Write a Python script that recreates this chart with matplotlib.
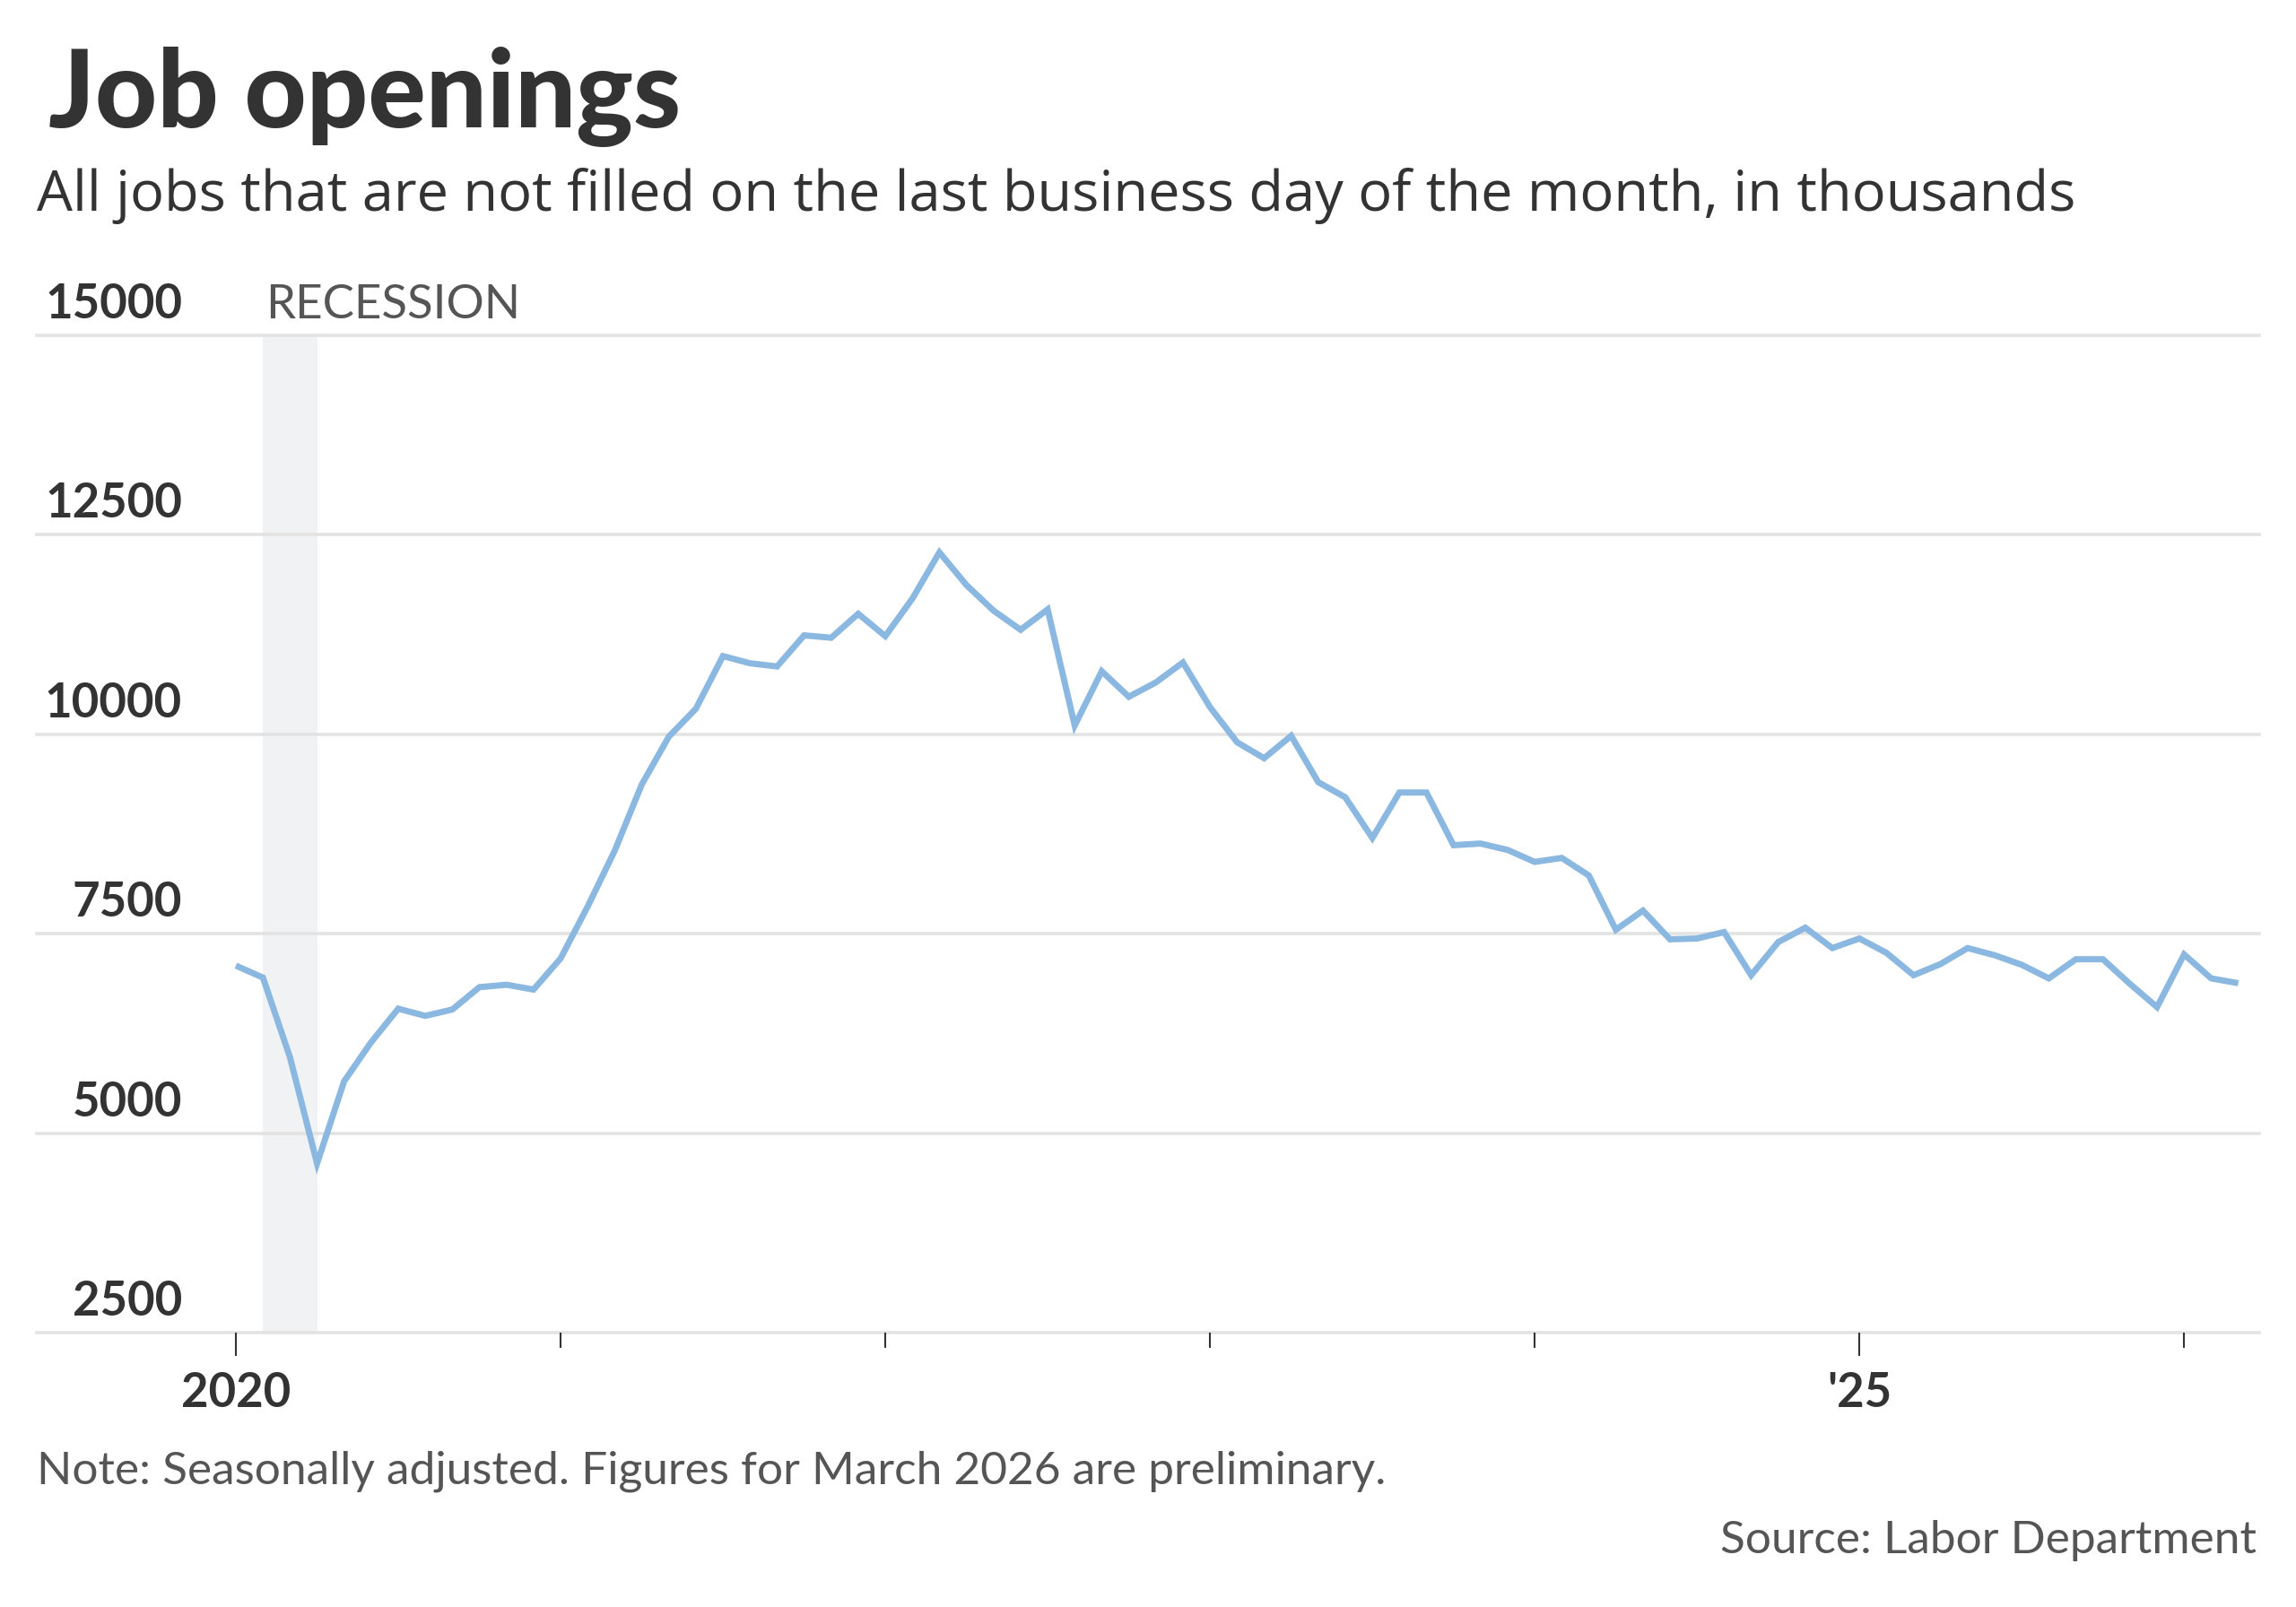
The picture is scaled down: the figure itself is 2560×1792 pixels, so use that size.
import matplotlib
matplotlib.use("Agg")
import matplotlib.pyplot as plt
import matplotlib.transforms as mtransforms

plt.rcParams['font.family'] = ['Lato', 'DejaVu Sans']

# ---- data (thousands), monthly Jan 2020 .. Mar 2026 ----
months = list(range(75))  # 0 = Jan 2020
openings = [
    7100, 6950, 5950, 4620, 5650, 6140, 6560, 6470, 6550, 6830, 6860, 6800,   # 2020
    7190, 7840, 8540, 9370, 9970, 10320, 10980, 10890, 10850, 11240, 11210, 11510,  # 2021
    11230, 11700, 12280, 11870, 11550, 11310, 11565, 10110, 10790, 10470, 10650, 10900,  # 2022
    10340, 9900, 9700, 9980, 9400, 9210, 8700, 9270, 9270, 8610, 8630, 8550,  # 2023
    8400, 8450, 8230, 7550, 7790, 7430, 7440, 7520, 6980, 7395, 7575, 7320,  # 2024
    7440, 7260, 6980, 7120, 7320, 7230, 7110, 6940, 7180, 7180, 6870, 6580,  # 2025
    7240, 6940, 6880,  # 2026
]
recession = (1, 3)  # Feb 2020 .. Apr 2020
ytick_values = [2500, 5000, 7500, 10000, 12500, 15000]
ytick_labels = ['2500', '5000', '7500', '10000', '12500', '15000']
xtick_major = [0, 60]
xtick_major_labels = ['2020', "'25"]
xtick_minor = [12, 24, 36, 48, 72]

title = "Job openings"
subtitle = "All jobs that are not filled on the last business day of the month, in thousands"
note = "Note: Seasonally adjusted. Figures for March 2026 are preliminary."
source = "Source: Labor Department"

W, H = 2560, 1792
fig = plt.figure(figsize=(W / 100, H / 100), dpi=100)
fig.patch.set_facecolor('white')

ax_left, ax_right = 41, 2519
ax_top, ax_bottom = 374, 1486
ax = fig.add_axes([ax_left / W, 1 - ax_bottom / H, (ax_right - ax_left) / W, (ax_bottom - ax_top) / H])
ax.set_facecolor('none')

# x limits: Jan 2020 at pixel 263, one month = 30.17 px
px_month = 30.17
x0 = 263
ax.set_xlim((ax_left - x0) / px_month, (ax_right - x0) / px_month)
ax.set_ylim(2500, 15000)

for s in ax.spines.values():
    s.set_visible(False)

# gridlines
for v in ytick_values:
    ax.axhline(v, color='#e3e3e3', lw=2.6, zorder=1, clip_on=False)

# recession shading
ax.axvspan(recession[0], recession[1], color='#f1f2f4', lw=0, zorder=0.5)

# line
ax.plot(months, openings, color='#8ab8e1', lw=5.0, solid_joinstyle='miter',
        solid_capstyle='butt', zorder=3)

# y labels above gridlines
trans = mtransforms.blended_transform_factory(ax.transAxes, ax.transData)
lab_x = (203 - ax_left) / (ax_right - ax_left)
for v, lab in zip(ytick_values, ytick_labels):
    ax.annotate(lab, xy=(lab_x, v), xycoords=trans, xytext=(0, 19 * 0.72),
                textcoords='offset points', ha='right', va='baseline',
                fontsize=38, fontweight='bold', color='#333333', annotation_clip=False)

ax.annotate('RECESSION', xy=(recession[0], 15000), xycoords='data',
            xytext=(3 * 0.72, 19 * 0.72), textcoords='offset points',
            ha='left', va='baseline', fontsize=38, color='#555555', annotation_clip=False)

# x ticks
ax.set_yticks([])
ax.set_xticks(xtick_major)
ax.set_xticklabels(xtick_major_labels)
ax.set_xticks(xtick_minor, minor=True)
ax.tick_params(axis='x', which='major', length=19, width=1.5, color='#333333',
               pad=12, labelsize=38, labelcolor='#333333')
ax.tick_params(axis='x', which='minor', length=12, width=1.5, color='#333333')
for t in ax.get_xticklabels():
    t.set_fontweight('bold')

# texts
fig.text(54 / W, 1 - 141.7 / H, title, fontsize=86.5, fontweight='black', color='#333333',
         ha='left', va='baseline')
fig.text(41 / W, 1 - 235 / H, subtitle, fontsize=45.5, color='#333333',
         family=['Open Sans', 'DejaVu Sans'], ha='left', va='baseline')
fig.text(41 / W, 1 - 1655 / H, note, fontsize=37, color='#555555',
         ha='left', va='baseline')
fig.text(2516 / W, 1 - 1732 / H, source, fontsize=37, color='#555555',
         ha='right', va='baseline')

fig.savefig('out.png', dpi=100, facecolor='white')
